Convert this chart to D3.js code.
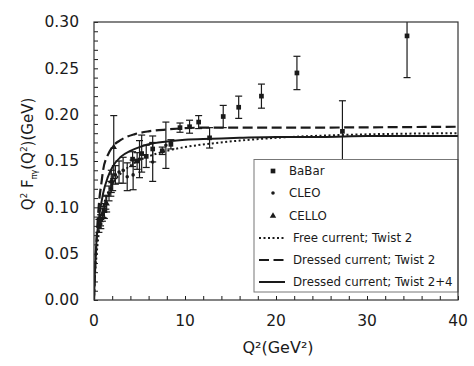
<!DOCTYPE html>
<html><head><meta charset="utf-8">
<script src="https://cdn.jsdelivr.net/npm/d3@7"></script>
<style>body{margin:0;background:#fff}svg{display:block}text{font-family:"DejaVu Sans",Verdana,sans-serif;fill:#1a1a1a}</style>
</head><body>
<svg id="c" width="474" height="366"></svg>
<script>
// ---- data ----
const xTicks = [0, 10, 20, 30, 40];
const yTicks = [0.00, 0.05, 0.10, 0.15, 0.20, 0.25, 0.30];
// [Q2, value, error]
const babar = [[4.24,0.152,0.008],[4.74,0.150,0.009],[5.24,0.158,0.020],[5.74,0.155,0.012],[6.45,0.163,0.014],
  [7.5,0.161,0.004],[8.45,0.168,0.005],[9.45,0.186,0.005],[10.5,0.187,0.007],[11.5,0.192,0.007],[12.7,0.175,0.011],
  [14.2,0.198,0.012],[15.9,0.208,0.012],[18.4,0.220,0.013],[22.3,0.245,0.018],[27.3,0.182,0.033],[34.4,0.285,0.045]];
const cleo = [[0.75,0.082,0.005],[1.0,0.095,0.006],[1.3,0.105,0.007],[1.65,0.115,0.008],[1.85,0.120,0.008],
  [2.05,0.127,0.009],[2.35,0.135,0.010],[2.75,0.138,0.012],[3.2,0.140,0.014],[3.65,0.133,0.015],[4.3,0.135,0.016],
  [5.0,0.152,0.020],[6.45,0.149,0.021],[7.9,0.167,0.025]];
const cello = [[0.54,0.080,0.007],[0.72,0.086,0.006],[0.92,0.092,0.007],[1.14,0.096,0.008],[1.39,0.104,0.009],
  [1.9,0.128,0.012],[2.17,0.165,0.034]];
const freeTwist2 = [[0,0],[0.1,0.025],[0.25,0.045],[0.5,0.07],[1,0.1],[1.5,0.115],[2,0.125],[3,0.137],[4,0.145],
  [5,0.151],[6,0.155],[8,0.161],[10,0.165],[13,0.169],[16,0.172],[20,0.175],[27,0.178],[40,0.180]];
const dressedTwist2 = [[0,0],[0.1,0.03],[0.2,0.05],[0.4,0.085],[0.6,0.11],[0.8,0.125],[1,0.14],[1.5,0.156],[2,0.165],
  [3,0.173],[4.5,0.179],[6,0.182],[8,0.184],[12,0.186],[20,0.186],[40,0.187]];
const dressedTwist24 = [[0,0],[0.1,0.03],[0.25,0.06],[0.5,0.085],[1,0.115],[1.5,0.132],[2,0.143],[3,0.155],[4,0.161],
  [5,0.165],[6,0.168],[8,0.171],[10,0.173],[13,0.174],[16,0.175],[20,0.176],[25,0.176],[30,0.177],[40,0.177]];
const legendLabels = ["BaBar","CLEO","CELLO","Free current; Twist 2","Dressed current; Twist 2","Dressed current; Twist 2+4"];

// ---- chart ----
const svg = d3.select("#c");
const L = 94, R = 458, T = 22, B = 300;
const x = d3.scaleLinear().domain([0,40]).range([L,R]);
const y = d3.scaleLinear().domain([0,0.3]).range([B,T]);
const ink = "#1a1a1a";

svg.append("defs").append("clipPath").attr("id","clip")
  .append("rect").attr("x",L).attr("y",T).attr("width",R-L).attr("height",B-T);

// axes with inward minor ticks
const gx = svg.append("g").attr("transform",`translate(0,${B})`)
  .call(d3.axisBottom(x).tickValues(d3.range(0,41,2)).tickSize(-4).tickFormat(""));
const gy = svg.append("g").attr("transform",`translate(${L},0)`)
  .call(d3.axisLeft(y).tickValues(d3.range(0,31).map(d=>d/100)).tickSize(-4).tickFormat(""));
[gx,gy].forEach(g=>{g.select(".domain").remove();g.selectAll("line").attr("stroke",ink).attr("stroke-width",1);});

// tick labels
svg.append("g").selectAll("text").data(xTicks).join("text")
  .attr("x",d=>x(d)).attr("y",B+26).attr("text-anchor","middle").attr("font-size",15.5).text(d=>d);
svg.append("g").selectAll("text").data(yTicks).join("text")
  .attr("x",L-15).attr("y",d=>y(d)).attr("dy","0.35em").attr("text-anchor","end").attr("font-size",15.5)
  .text(d=>d3.format(".2f")(d));

// curves
const line = d3.line().x(d=>x(d[0])).y(d=>y(d[1])).curve(d3.curveMonotoneX);
const plot = svg.append("g").attr("clip-path","url(#clip)");
plot.append("path").datum(freeTwist2).attr("d",line).attr("fill","none").attr("stroke",ink).attr("stroke-width",2).attr("stroke-dasharray","2,2.5");
plot.append("path").datum(dressedTwist2).attr("d",line).attr("fill","none").attr("stroke",ink).attr("stroke-width",2.2).attr("stroke-dasharray","10,4.5");
plot.append("path").datum(dressedTwist24).attr("d",line).attr("fill","none").attr("stroke",ink).attr("stroke-width",2);

// error bars
function errBars(data){
  const g = plot.append("g").attr("stroke",ink).attr("stroke-width",1.2);
  data.forEach(d=>{
    const cx = x(d[0]), y1 = y(d[1]+d[2]), y2 = y(d[1]-d[2]);
    g.append("line").attr("x1",cx).attr("x2",cx).attr("y1",y1).attr("y2",y2);
    g.append("line").attr("x1",cx-3.5).attr("x2",cx+3.5).attr("y1",y1).attr("y2",y1);
    g.append("line").attr("x1",cx-3.5).attr("x2",cx+3.5).attr("y1",y2).attr("y2",y2);
  });
}
errBars(cello); errBars(cleo); errBars(babar);
const sq = d3.symbol().type(d3.symbolSquare).size(22);
const tri = d3.symbol().type(d3.symbolTriangle).size(18);
const cir = d3.symbol().type(d3.symbolCircle).size(10);
plot.append("g").selectAll("path").data(cello).join("path").attr("d",tri)
  .attr("transform",d=>`translate(${x(d[0])},${y(d[1])})`).attr("fill",ink);
plot.append("g").selectAll("path").data(cleo).join("path").attr("d",cir)
  .attr("transform",d=>`translate(${x(d[0])},${y(d[1])})`).attr("fill",ink);
plot.append("g").selectAll("path").data(babar).join("path").attr("d",sq)
  .attr("transform",d=>`translate(${x(d[0])},${y(d[1])})`).attr("fill",ink);

// legend
const lg = svg.append("g");
lg.append("rect").attr("x",254).attr("y",159.5).attr("width",R-254).attr("height",132.5)
  .attr("fill","#fff").attr("stroke","#777").attr("stroke-width",1);
const ly = [171,193,216,238,260,282];
const syms = [sq,cir,tri];
legendLabels.forEach((lab,i)=>{
  if(i<3){
    lg.append("path").attr("d",syms[i]).attr("transform",`translate(273,${ly[i]})`).attr("fill",ink);
    lg.append("text").attr("x",289).attr("y",ly[i]).attr("dy","0.35em").attr("font-size",11.8).text(lab);
  } else {
    const dash = [ "2,2.5", "10,4.5", null ][i-3];
    const l = lg.append("line").attr("x1",259).attr("x2",285).attr("y1",ly[i]).attr("y2",ly[i])
      .attr("stroke",ink).attr("stroke-width",2);
    if(dash) l.attr("stroke-dasharray",dash);
    lg.append("text").attr("x",293).attr("y",ly[i]).attr("dy","0.35em").attr("font-size",11.8).text(lab);
  }
});

// frame
svg.append("rect").attr("x",L).attr("y",T).attr("width",R-L).attr("height",B-T)
  .attr("fill","none").attr("stroke","#333").attr("stroke-width",1.2);

// axis titles
svg.append("text").attr("x",278).attr("y",353).attr("text-anchor","middle").attr("font-size",16).text("Q²(GeV²)");
const yt = svg.append("text").attr("transform","translate(33,154) rotate(-90)").attr("text-anchor","middle").attr("font-size",15);
yt.append("tspan").text("Q");
yt.append("tspan").attr("font-size",9).attr("dy",-6).text("2");
yt.append("tspan").attr("dy",6).text(" F");
yt.append("tspan").attr("font-size",8).attr("dy",4).text("πγ");
yt.append("tspan").attr("dy",-4).text("(Q");
yt.append("tspan").attr("font-size",9).attr("dy",-6).text("2");
yt.append("tspan").attr("dy",6).text(")(GeV)");
</script>
</body></html>
